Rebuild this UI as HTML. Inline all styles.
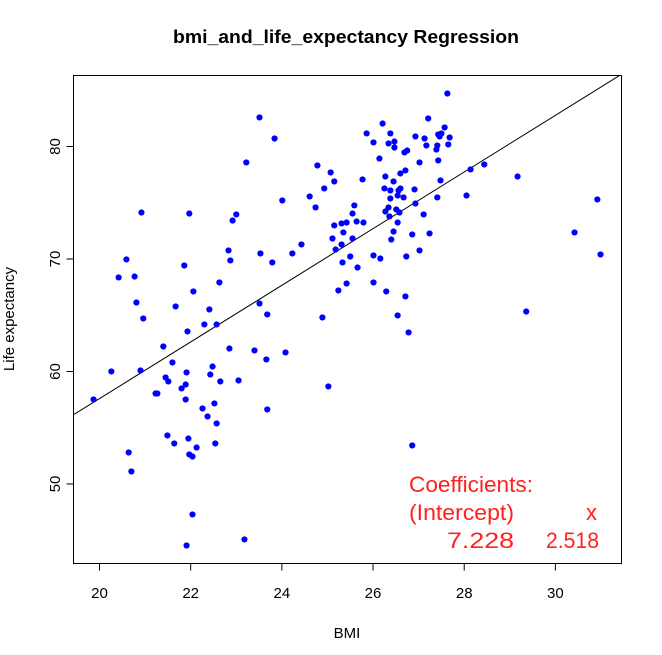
<!DOCTYPE html>
<html><head><meta charset="utf-8"><style>
body{margin:0;background:#fff;}
svg{display:block;font-family:"Liberation Sans",Arial,sans-serif;}
</style></head><body>
<svg id="chart" width="662" height="655" viewBox="0 0 662 655" xmlns="http://www.w3.org/2000/svg">
<rect width="662" height="655" fill="#fff"/>
<text x="173" y="43" font-size="18" font-weight="bold" textLength="346" lengthAdjust="spacingAndGlyphs">bmi_and_life_expectancy Regression</text>
<text x="347" y="638" text-anchor="middle" font-size="15">BMI</text>
<text transform="translate(14,319) rotate(-90)" text-anchor="middle" font-size="15">Life expectancy</text>
<g id="axes"></g>
<g id="marks"></g>
<rect x="73.5" y="75.5" width="548" height="488" fill="none" stroke="#000" stroke-width="1"/>
<g fill="#ff2020" font-size="22">
<text x="409" y="492" textLength="124" lengthAdjust="spacingAndGlyphs">Coefficients:</text>
<text x="409" y="520" textLength="105" lengthAdjust="spacingAndGlyphs">(Intercept)</text>
<text x="586" y="520" textLength="11" lengthAdjust="spacingAndGlyphs">x</text>
<text x="447" y="548" textLength="67" lengthAdjust="spacingAndGlyphs">7.228</text>
<text x="546" y="548" textLength="53" lengthAdjust="spacingAndGlyphs">2.518</text>
</g>
</svg>
<script>
const bmi = [23.51,23.84,23.22,24.01,20.92,21.97,23.0,22.92,22.83,22.87,23.53,23.79,24.23,24.43,20.59,20.42,20.77,21.86,22.63,22.06,20.81,21.67,22.41,23.51,23.68,20.96,22.30,22.57,21.93,21.40,22.85,23.40,24.08,23.66,21.60,20.26,20.90,21.91,22.48,22.43,21.45,21.51,22.65,23.05,21.89,21.80,21.23,21.27,19.87,21.89,22.52,22.26,23.68,22.37,22.57,21.49,21.95,21.64,22.54,22.13,20.64,21.97,22.04,20.70,22.04,23.18,21.91,
27.63,27.21,26.21,27.57,25.86,26.38,26.93,27.13,27.43,27.50,27.68,27.46,26.01,26.34,26.47,26.47,27.17,27.41,27.65,27.39,26.69,26.75,26.14,27.43,27.02,24.78,25.07,26.71,26.60,28.44,28.14,26.27,25.15,25.77,26.45,27.48,24.93,26.25,26.38,26.60,26.56,26.91,24.61,26.54,26.67,26.38,27.41,28.05,24.74,25.59,26.93,26.34,26.51,26.27,26.58,25.55,27.11,26.36,25.15,25.31,25.42,25.64,25.79,26.54,25.35,26.45,26.86,27.24,25.11,25.55,26.40,25.31,25.18,27.02,25.50,26.01,26.16,26.73,25.33,25.66,25.42,26.01,25.24,26.29,26.71,24.89,26.54,26.78,29.36,25.02,26.86,29.17,30.42,30.92,30.99];
const lifeExp = [82.58,80.71,78.58,75.2,74.13,74.04,73.96,73.42,70.76,69.87,70.49,69.69,70.49,71.29,69.96,68.36,68.44,69.42,67.91,67.11,66.13,65.78,65.51,66.04,65.07,64.71,64.18,64.18,63.56,62.22,62.04,61.87,61.69,61.07,60.8,60.0,60.09,59.91,60.44,59.73,59.47,59.11,59.11,59.2,58.84,58.49,58.04,58.04,57.51,57.51,57.16,56.71,56.62,56.0,55.38,54.31,54.04,53.6,53.6,53.24,52.8,52.62,52.44,51.11,47.29,45.07,44.53,
84.71,82.49,82.04,81.69,81.16,81.16,80.89,80.71,81.07,81.16,80.8,80.89,80.36,80.27,80.44,79.91,80.09,80.09,80.18,79.73,79.47,79.64,78.93,78.76,78.58,78.31,77.69,77.87,77.6,78.4,77.96,77.33,76.89,77.07,76.89,76.98,76.27,76.27,76.09,76.27,76.09,76.18,75.56,75.64,75.47,75.38,75.47,75.64,74.58,74.76,74.93,74.58,74.4,74.22,74.13,74.04,73.96,73.78,72.98,73.16,73.24,73.33,73.24,73.24,72.36,72.44,72.18,72.27,71.82,71.82,71.73,71.29,70.84,70.76,70.22,70.31,70.04,70.22,69.69,69.24,67.82,67.91,67.2,67.11,66.67,64.8,64.98,63.47,65.33,58.67,53.42,77.33,72.36,75.29,70.4];
const xTicks = [20,22,24,26,28,30];
const yTicks = [50,60,70,80];
const intercept = 7.228;
const slope = 2.518;

const X0 = 73.5, X1 = 621.5, Y0 = 563.5, Y1 = 75.5;
const xMin = 19.43, xMax = 31.45, yMin = 42.93, yMax = 86.31;
function sx(v){ return X0 + (v - xMin) / (xMax - xMin) * (X1 - X0); }
function sy(v){ return Y0 - (v - yMin) / (yMax - yMin) * (Y0 - Y1); }
const NS = "http://www.w3.org/2000/svg";
const axes = document.getElementById('axes');
const marks = document.getElementById('marks');
function mk(tag, attrs, parent){ const e = document.createElementNS(NS, tag); for (const k in attrs) e.setAttribute(k, attrs[k]); parent.appendChild(e); return e; }

xTicks.forEach(t => {
  const x = sx(t);
  const tk = mk('line', {x1:x, x2:x, y1:Y0, y2:Y0+7, stroke:'#000'}, axes);
  
  
  const lb = mk('text', {x:x, y:598, 'text-anchor':'middle', 'font-size':15}, axes);
  lb.textContent = t;
  
  
});
yTicks.forEach(t => {
  const y = sy(t);
  const tk = mk('line', {x1:X0-7, x2:X0, y1:y, y2:y, stroke:'#000'}, axes);
  
  
  const lb = mk('text', {transform:'translate(60,'+y+') rotate(-90)', 'text-anchor':'middle', 'font-size':15}, axes);
  lb.textContent = t;
  
  
});

const clip = mk('clipPath', {id:'pc'}, marks);
mk('rect', {x:X0, y:Y1, width:X1-X0, height:Y0-Y1}, clip);
const line = mk('line', {x1:sx(xMin), y1:sy(intercept+slope*xMin), x2:sx(xMax), y2:sy(intercept+slope*xMax), stroke:'#000', 'stroke-width':1, 'clip-path':'url(#pc)'}, marks);



bmi.forEach((b, i) => {
  const c = mk('circle', {cx:sx(b), cy:sy(lifeExp[i]), r:3.1, fill:'#0000ff'}, marks);
  
  
});
</script>
</body></html>
